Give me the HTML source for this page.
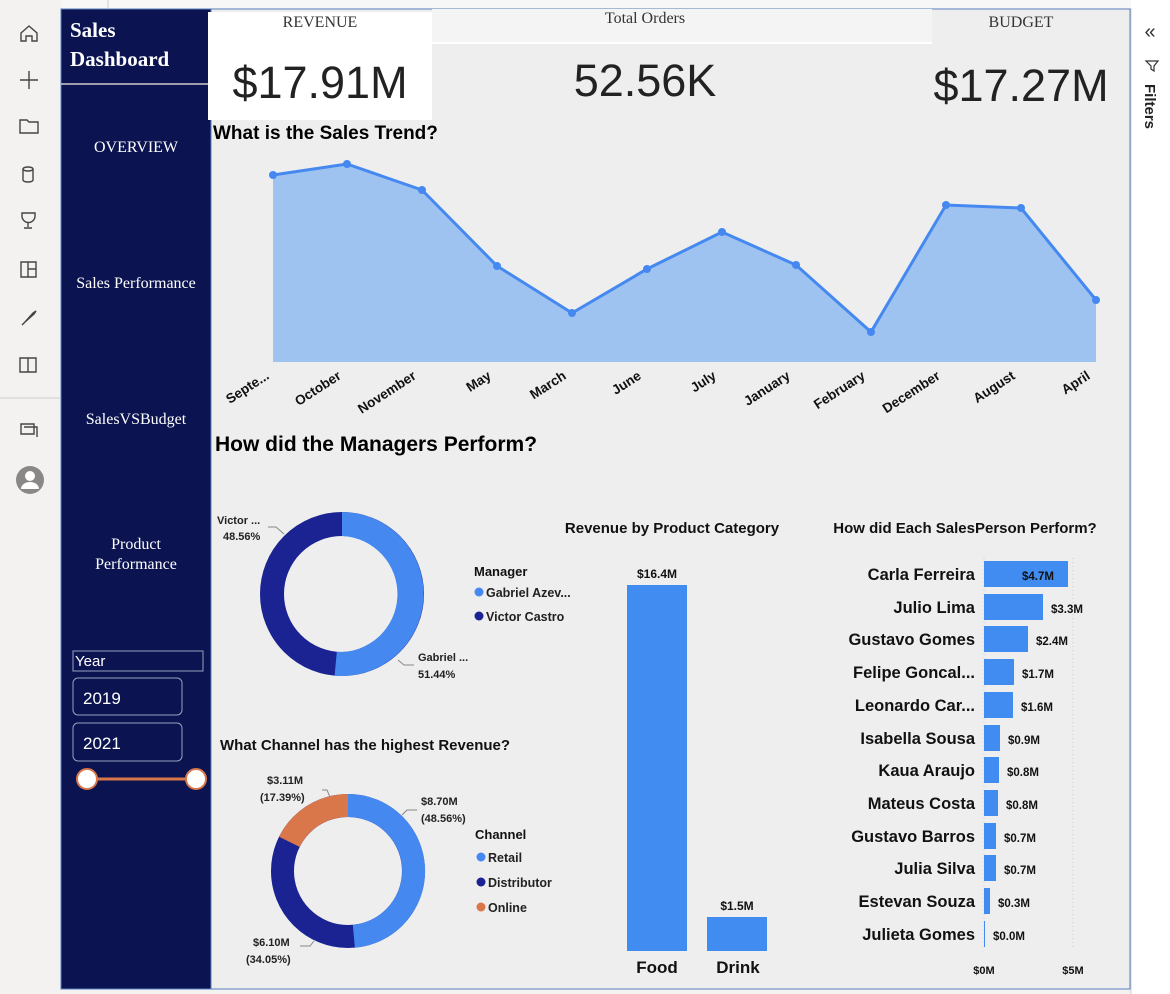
<!DOCTYPE html>
<html><head><meta charset="utf-8"><style>
html,body{margin:0;padding:0;width:1170px;height:994px;overflow:hidden;background:#f3f2f1;font-family:"Liberation Sans",sans-serif}
</style></head><body>
<svg width="1170" height="994" viewBox="0 0 1170 994" xmlns="http://www.w3.org/2000/svg" font-family="Liberation Sans, DejaVu Sans, sans-serif">
<rect x="0" y="0" width="1170" height="994" fill="#f3f2f1"/>
<rect x="61" y="0" width="1070" height="8" fill="#f7f7f7"/>
<line x1="108" y1="0" x2="108" y2="8" stroke="#ccc"/>
<rect x="211" y="9" width="919" height="980" fill="#eeeeee" stroke="#5a7fc0" stroke-width="1"/>
<rect x="61" y="9" width="150" height="980" fill="#0b1450" stroke="#5a7fc0" stroke-width="1"/>
<rect x="1131" y="0" width="39" height="994" fill="#ffffff"/>
<line x1="1131" y1="8" x2="1131" y2="994" stroke="#d0d0d0"/>
<text x="1150" y="38" font-size="20" text-anchor="middle" fill="#333">«</text>
<path d="M1146 61 h12 l-4 5 v5 l-3 -2 v-3 z" fill="none" stroke="#333" stroke-width="1.2"/>
<text transform="translate(1145,84) rotate(90)" font-size="15" font-weight="bold" fill="#222">Filters</text>
<g stroke="#444" stroke-width="1.4" fill="none">
<path d="M21 33 l8 -7 l8 7 v8 h-5 v-5 h-6 v5 h-5 z"/>
<path d="M29 71 v18 M20 80 h18"/>
<path d="M20 120 h7 l2 2 h9 v11 h-18 z"/>
<ellipse cx="28" cy="169" rx="5" ry="2"/><path d="M23 169 v11 a5 2 0 0 0 10 0 v-11"/>
<path d="M22 213 h13 v3 a6 6 0 0 1 -13 0 z M28 222 v5 M24 228 h8"/>
<path d="M21 262 h15 v15 h-15 z M28 262 v15 M28 269 h8"/>
<path d="M22 325 l3 -3 l8 -9 l3 -2 l-2 3 l-9 8 z"/>
<path d="M20 358 h8 v14 h-8 z M28 358 h8 v14 h-8 z"/>
<path d="M21 424 h13 v10 h-13 z M24 427 h13 v10"/>
</g>
<line x1="0" y1="398" x2="60" y2="398" stroke="#d0d0d0"/>
<circle cx="30" cy="480" r="14" fill="#8a8886"/>
<circle cx="30" cy="476" r="5" fill="#fff"/><path d="M21 489 a9 7 0 0 1 18 0" fill="#fff"/>
<text x="70" y="37" font-family="Liberation Serif,serif" font-size="21" font-weight="bold" fill="#fff">Sales</text>
<text x="70" y="66" font-family="Liberation Serif,serif" font-size="21" font-weight="bold" fill="#fff">Dashboard</text>
<line x1="61" y1="84" x2="211" y2="84" stroke="#ccc" stroke-width="1.5"/>
<g font-family="Liberation Serif,serif" font-size="16" fill="#fff" text-anchor="middle">
<text x="136" y="152">OVERVIEW</text>
<text x="136" y="288">Sales Performance</text>
<text x="136" y="424">SalesVSBudget</text>
<text x="136" y="549">Product</text>
<text x="136" y="569">Performance</text>
</g>
<rect x="73" y="651" width="130" height="20" fill="none" stroke="#9aa0c0"/>
<text x="75" y="666" font-size="15" fill="#fff">Year</text>
<rect x="73" y="678" width="109" height="37" rx="5" fill="none" stroke="#9aa0c0"/>
<text x="83" y="704" font-size="17" fill="#fff">2019</text>
<rect x="73" y="723" width="109" height="38" rx="5" fill="none" stroke="#9aa0c0"/>
<text x="83" y="749" font-size="17" fill="#fff">2021</text>
<line x1="87" y1="779" x2="196" y2="779" stroke="#d9774a" stroke-width="3"/>
<circle cx="87" cy="779" r="10" fill="#fff" stroke="#d9774a" stroke-width="2"/>
<circle cx="196" cy="779" r="10" fill="#fff" stroke="#d9774a" stroke-width="2"/>
<rect x="208" y="12" width="224" height="108" fill="#ffffff"/>
<text x="320" y="27" font-family="Liberation Serif,serif" font-size="16" fill="#333" text-anchor="middle">REVENUE</text>
<text x="320" y="98" font-size="45" fill="#222" text-anchor="middle">$17.91M</text>
<rect x="432" y="9" width="500" height="33" fill="#f4f4f4"/>
<line x1="432" y1="43" x2="932" y2="43" stroke="#fff" stroke-width="2"/>
<text x="645" y="23" font-family="Liberation Serif,serif" font-size="16" fill="#333" text-anchor="middle">Total Orders</text>
<text x="645" y="96" font-size="45" fill="#222" text-anchor="middle">52.56K</text>
<text x="1021" y="27" font-family="Liberation Serif,serif" font-size="16" fill="#333" text-anchor="middle">BUDGET</text>
<text x="1021" y="101" font-size="45" fill="#222" text-anchor="middle">$17.27M</text>
<text x="213" y="139" font-size="19" font-weight="bold" fill="#000">What is the Sales Trend?</text>
<path d="M273 175 L347 164 L422 190 L497 266 L572 313 L647 269 L722 232 L796 265 L871 332 L946 205 L1021 208 L1096 300 L1096 362 L273 362 Z" fill="#9fc3f0"/>
<path d="M273 175 L347 164 L422 190 L497 266 L572 313 L647 269 L722 232 L796 265 L871 332 L946 205 L1021 208 L1096 300" fill="none" stroke="#4589f0" stroke-width="3"/>
<g fill="#4589f0">
<circle cx="273" cy="175" r="4"/><circle cx="347" cy="164" r="4"/><circle cx="422" cy="190" r="4"/><circle cx="497" cy="266" r="4"/><circle cx="572" cy="313" r="4"/><circle cx="647" cy="269" r="4"/><circle cx="722" cy="232" r="4"/><circle cx="796" cy="265" r="4"/><circle cx="871" cy="332" r="4"/><circle cx="946" cy="205" r="4"/><circle cx="1021" cy="208" r="4"/><circle cx="1096" cy="300" r="4"/>
</g>
<g font-size="13.5" font-weight="bold" fill="#111" text-anchor="end">
<text transform="translate(270,378) rotate(-33)">Septe...</text>
<text transform="translate(342,378) rotate(-33)">October</text>
<text transform="translate(417,378) rotate(-33)">November</text>
<text transform="translate(492,378) rotate(-33)">May</text>
<text transform="translate(567,378) rotate(-33)">March</text>
<text transform="translate(642,378) rotate(-33)">June</text>
<text transform="translate(717,378) rotate(-33)">July</text>
<text transform="translate(791,378) rotate(-33)">January</text>
<text transform="translate(866,378) rotate(-33)">February</text>
<text transform="translate(941,378) rotate(-33)">December</text>
<text transform="translate(1016,378) rotate(-33)">August</text>
<text transform="translate(1091,378) rotate(-33)">April</text>
</g>
<text x="215" y="451" font-size="21" font-weight="bold" fill="#000">How did the Managers Perform?</text>
<circle cx="342" cy="594" r="70" fill="none" stroke="#1a2391" stroke-width="24"/>
<path d="M342 512 A82 82 0 1 1 334.6 675.7 L336.8 652 A58 58 0 1 0 342 536 Z" fill="#4589f0"/>
<g font-size="11" font-weight="bold" fill="#222">
<text x="217" y="524">Victor ...</text><text x="223" y="540">48.56%</text>
<text x="418" y="661">Gabriel ...</text><text x="418" y="678">51.44%</text>
</g>
<path d="M268 527 h8 l8 7 M398 660 l6 5 h10" stroke="#888" fill="none"/>
<text x="474" y="576" font-size="13" font-weight="bold" fill="#111">Manager</text>
<circle cx="479" cy="592" r="4.5" fill="#4589f0"/><text x="486" y="597" font-size="12.5" font-weight="bold" fill="#222">Gabriel Azev...</text>
<circle cx="479" cy="616" r="4.5" fill="#1a2391"/><text x="486" y="621" font-size="12.5" font-weight="bold" fill="#222">Victor Castro</text>
<text x="220" y="750" font-size="15" font-weight="bold" fill="#111">What Channel has the highest Revenue?</text>
<circle cx="348" cy="871" r="65.5" fill="none" stroke="#1a2391" stroke-width="23"/>
<path d="M348 794 A77 77 0 0 1 354.9 947.7 L352.8 924.8 A54 54 0 0 0 348 817 Z" fill="#4589f0"/>
<path d="M348 794 A77 77 0 0 0 279 836.8 L299.6 846.9 A54 54 0 0 1 348 817 Z" fill="#d9774a"/>
<g font-size="11" font-weight="bold" fill="#222">
<text x="267" y="784">$3.11M</text><text x="260" y="801">(17.39%)</text>
<text x="421" y="805">$8.70M</text><text x="421" y="822">(48.56%)</text>
<text x="253" y="946">$6.10M</text><text x="246" y="963">(34.05%)</text>
</g>
<path d="M322 790 h5 l3 7 M402 815 l5 -5 h10 M300 946 h10 l4 -5" stroke="#888" fill="none"/>
<text x="475" y="839" font-size="13" font-weight="bold" fill="#111">Channel</text>
<circle cx="481" cy="857" r="4.5" fill="#4589f0"/><text x="488" y="862" font-size="12.5" font-weight="bold" fill="#222">Retail</text>
<circle cx="481" cy="882" r="4.5" fill="#1a2391"/><text x="488" y="887" font-size="12.5" font-weight="bold" fill="#222">Distributor</text>
<circle cx="481" cy="907" r="4.5" fill="#d9774a"/><text x="488" y="912" font-size="12.5" font-weight="bold" fill="#222">Online</text>
<text x="672" y="533" font-size="15" font-weight="bold" fill="#111" text-anchor="middle">Revenue by Product Category</text>
<rect x="627" y="585" width="60" height="366" fill="#418cf0"/>
<rect x="707" y="917" width="60" height="34" fill="#418cf0"/>
<text x="657" y="578" font-size="12" font-weight="bold" fill="#111" text-anchor="middle">$16.4M</text>
<text x="737" y="910" font-size="12" font-weight="bold" fill="#111" text-anchor="middle">$1.5M</text>
<text x="657" y="973" font-size="17" font-weight="bold" fill="#111" text-anchor="middle">Food</text>
<text x="738" y="973" font-size="17" font-weight="bold" fill="#111" text-anchor="middle">Drink</text>
<text x="965" y="533" font-size="15" font-weight="bold" fill="#111" text-anchor="middle">How did Each SalesPerson Perform?</text>
<line x1="984" y1="558" x2="984" y2="950" stroke="#ccc" stroke-dasharray="1,3"/>
<line x1="1073" y1="558" x2="1073" y2="950" stroke="#ccc" stroke-dasharray="1,3"/>
<g fill="#418cf0">
<rect x="984" y="561" width="84" height="26"/>
<rect x="984" y="594" width="59" height="26"/>
<rect x="984" y="626" width="44" height="26"/>
<rect x="984" y="659" width="30" height="26"/>
<rect x="984" y="692" width="29" height="26"/>
<rect x="984" y="725" width="16" height="26"/>
<rect x="984" y="757" width="15" height="26"/>
<rect x="984" y="790" width="14" height="26"/>
<rect x="984" y="823" width="12" height="26"/>
<rect x="984" y="855" width="12" height="26"/>
<rect x="984" y="888" width="6" height="26"/>
<rect x="984" y="921" width="1" height="26"/>
</g>
<g font-size="16.5" font-weight="bold" fill="#111" text-anchor="end">
<text x="975" y="580">Carla Ferreira</text>
<text x="975" y="613">Julio Lima</text>
<text x="975" y="645">Gustavo Gomes</text>
<text x="975" y="678">Felipe Goncal...</text>
<text x="975" y="711">Leonardo Car...</text>
<text x="975" y="744">Isabella Sousa</text>
<text x="975" y="776">Kaua Araujo</text>
<text x="975" y="809">Mateus Costa</text>
<text x="975" y="842">Gustavo Barros</text>
<text x="975" y="874">Julia Silva</text>
<text x="975" y="907">Estevan Souza</text>
<text x="975" y="940">Julieta Gomes</text>
</g>
<g font-size="11.5" font-weight="bold" fill="#111">
<text x="1022" y="580">$4.7M</text>
<text x="1051" y="613">$3.3M</text>
<text x="1036" y="645">$2.4M</text>
<text x="1022" y="678">$1.7M</text>
<text x="1021" y="711">$1.6M</text>
<text x="1008" y="744">$0.9M</text>
<text x="1007" y="776">$0.8M</text>
<text x="1006" y="809">$0.8M</text>
<text x="1004" y="842">$0.7M</text>
<text x="1004" y="874">$0.7M</text>
<text x="998" y="907">$0.3M</text>
<text x="993" y="940">$0.0M</text>
<text x="984" y="974" text-anchor="middle" font-size="11">$0M</text>
<text x="1073" y="974" text-anchor="middle" font-size="11">$5M</text>
</g>
</svg>
</body></html>
